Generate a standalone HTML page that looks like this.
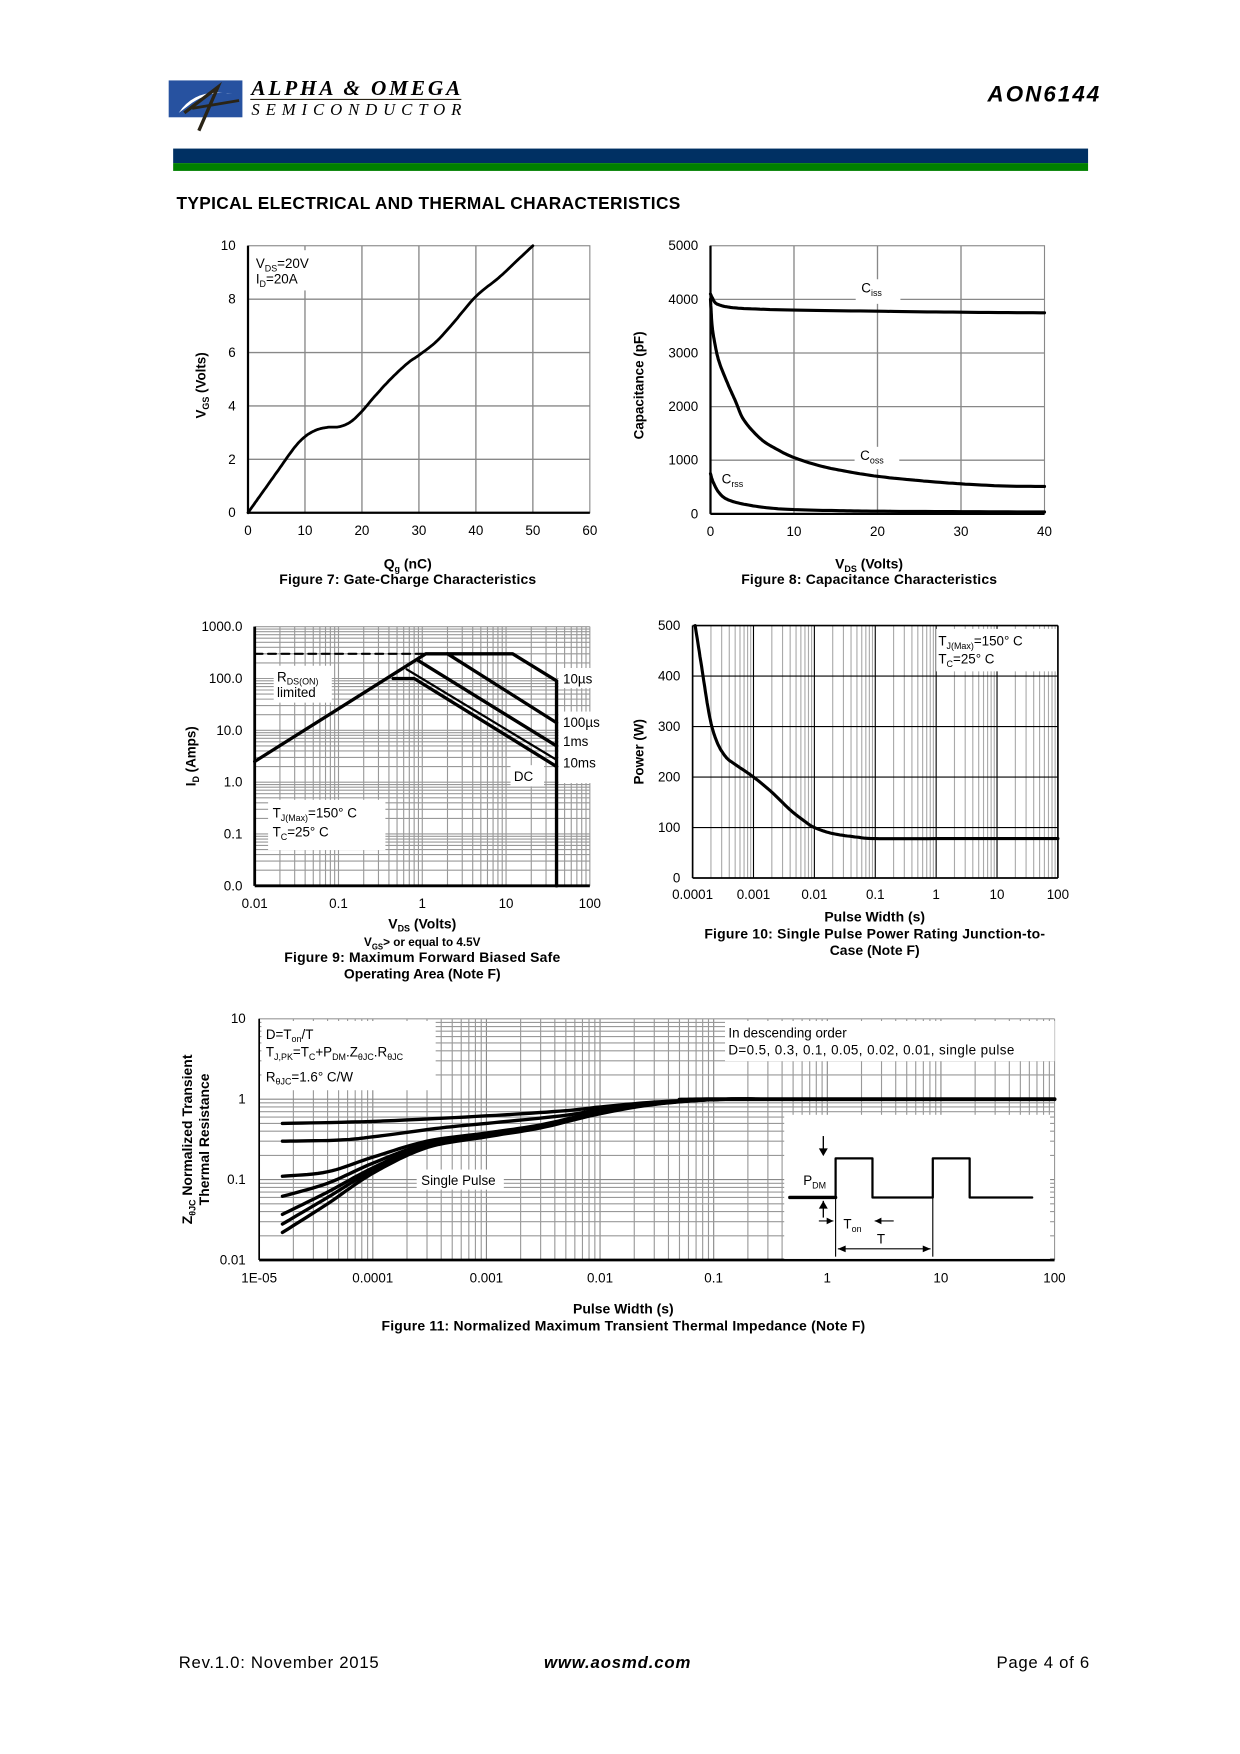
<!DOCTYPE html>
<html><head><meta charset="utf-8">
<style>
html,body{margin:0;padding:0;background:#fff;}
svg{display:block;}
text{font-family:"Liberation Sans",Arial,sans-serif;fill:#000;}
</style></head>
<body>
<svg id="s" width="1240" height="1754" viewBox="0 0 1110 1570.2" preserveAspectRatio="none" xmlns="http://www.w3.org/2000/svg">
<rect width="1110" height="1571" fill="#fff"/>
<rect x="151" y="72" width="66" height="33" fill="#2752a0"/>
<path d="M160 101 Q175 78 208 84 Q190 80 172 92 Z" fill="#fff"/>
<path d="M165 101 L195 78 L178 117" stroke="#2a2416" stroke-width="3" fill="none"/>
<path d="M172 97 L214 90" stroke="#2a2416" stroke-width="2.5"/>
<text x="225" y="85" font-style="italic" font-weight="bold" font-size="19" fill="#2a2416" textLength="187" style="font-family:'Liberation Serif',serif">ALPHA &amp; OMEGA</text>
<line x1="224" y1="89" x2="413" y2="89" stroke="#2a2416" stroke-width="1"/>
<text x="225" y="103" font-style="italic" font-size="15" textLength="188" style="font-family:'Liberation Serif',serif" fill="#2a2416">SEMICONDUCTOR</text>
<text x="884" y="91" font-style="italic" font-weight="bold" font-size="20" textLength="100">AON6144</text>
<rect x="155" y="133" width="819" height="13" fill="#003063"/>
<rect x="155" y="146" width="819" height="7" fill="#008000"/>
<text x="158" y="187" font-weight="bold" font-size="15.5" textLength="451">TYPICAL ELECTRICAL AND THERMAL CHARACTERISTICS</text>
<g id="g"></g>
<text x="160" y="1493" font-size="15" textLength="179">Rev.1.0: November 2015</text>
<text x="487" y="1493" font-size="15" font-weight="bold" font-style="italic" textLength="131">www.aosmd.com</text>
<text x="892" y="1493" font-size="15" textLength="83">Page 4 of 6</text>
</svg>
<script>
var out=[];
function L(x1,y1,x2,y2,c,w,extra){out.push('<line x1="'+x1+'" y1="'+y1+'" x2="'+x2+'" y2="'+y2+'" stroke="'+c+'" stroke-width="'+w+'" '+(extra||'')+'/>');}
function T(x,y,s,fs,anch,extra){out.push('<text x="'+x+'" y="'+y+'" font-size="'+(fs||12)+'" text-anchor="'+(anch||'start')+'" '+(extra||'')+'>'+s+'</text>');}
function R(x,y,w,h,f,s){out.push('<rect x="'+x+'" y="'+y+'" width="'+w+'" height="'+h+'" fill="'+(f||'#fff')+'" '+(s?'stroke="'+s+'"':'')+'/>');}
function P(pts,w,extra){out.push('<polyline fill="none" stroke="#000" stroke-width="'+w+'" stroke-linejoin="round" stroke-linecap="round" points="'+pts.map(function(p){return p[0].toFixed(1)+','+p[1].toFixed(1)}).join(' ')+'" '+(extra||'')+'/>');}
function lg(v){return Math.log(v)/Math.LN10;}
function lin(a0,a1,p0,p1){return function(v){return p0+(v-a0)/(a1-a0)*(p1-p0);};}
function logm(a0,a1,p0,p1){return function(v){return p0+(lg(v)-lg(a0))/(lg(a1)-lg(a0))*(p1-p0);};}
function logGridX(x0,x1,y0,y1,d0,nd,minC,majC){var w=(x1-x0)/nd;for(var d=0;d<nd;d++){for(var k=2;k<10;k++){var x=x0+w*(d+lg(k));L(x,y0,x,y1,minC,1);} if(d>0)L(x0+w*d,y0,x0+w*d,y1,majC,1);}}
function logGridY(x0,x1,y0,y1,nd,minC,majC){var h=(y1-y0)/nd;for(var d=0;d<nd;d++){for(var k=2;k<10;k++){var y=y1-h*(d+lg(k));L(x0,y,x1,y,minC,1);} if(d>0)L(x0,y1-h*d,x1,y1-h*d,majC,1);}}
// smooth via log-x interpolation (catmull-rom in pixel space)
function smooth(pts){var r=[];for(var i=0;i<pts.length-1;i++){var p0=pts[Math.max(0,i-1)],p1=pts[i],p2=pts[i+1],p3=pts[Math.min(pts.length-1,i+2)];for(var t=0;t<1;t+=0.1){var t2=t*t,t3=t2*t;r.push([0.5*((2*p1[0])+(-p0[0]+p2[0])*t+(2*p0[0]-5*p1[0]+4*p2[0]-p3[0])*t2+(-p0[0]+3*p1[0]-3*p2[0]+p3[0])*t3),0.5*((2*p1[1])+(-p0[1]+p2[1])*t+(2*p0[1]-5*p1[1]+4*p2[1]-p3[1])*t2+(-p0[1]+3*p1[1]-3*p2[1]+p3[1])*t3)]);}}r.push(pts[pts.length-1]);return r;}
var CAP='font-weight="bold"';

// ---------- Fig 7 ----------
(function(){var x0=222,x1=528,y0=220,y1=459;var X=lin(0,60,x0,x1),Y=lin(0,10,y1,y0);
for(var i=1;i<6;i++)L(X(i*10),y0,X(i*10),y1,'#888',1.2);
for(var i=1;i<5;i++)L(x0,Y(i*2),x1,Y(i*2),'#888',1.2);
R(x0,y0,x1-x0,y1-y0,'none','#888');
L(x0,y0,x0,y1,'#000',2);L(x0,y1,x1,y1,'#000',2);
for(var i=0;i<=6;i++)T(X(i*10),479,i*10,12,'middle');
for(var i=0;i<=5;i++)T(211,Y(i*2)+4,i*2,12,'end');
R(226,224,58,36,'#fff');
T(229,240,'V<tspan font-size="8" dy="3">DS</tspan><tspan dy="-3">=20V</tspan>',12);
T(229,254,'I<tspan font-size="8" dy="3">D</tspan><tspan dy="-3">=20A</tspan>',12);
var d=[[0,0],[2,0.6],[5,1.5],[8,2.4],[10,2.85],[12,3.1],[14,3.2],[16,3.22],[18,3.4],[20,3.8],[22,4.3],[25,5.0],[28,5.6],[30,5.9],[33,6.4],[36,7.1],[40,8.1],[44,8.8],[47,9.4],[50,10]];
P(smooth(d.map(function(p){return[X(p[0]),Y(p[1])]})),2.5);
T(184,345,'V<tspan font-size="8" dy="3">GS</tspan><tspan dy="-3"> (Volts)</tspan>',12,'middle','font-weight="bold" transform="rotate(-90 184 345)"');
T(365,509,'Q<tspan font-size="8" dy="3">g</tspan><tspan dy="-3"> (nC)</tspan>',12.5,'middle',CAP);
T(365,523,'Figure 7: Gate-Charge Characteristics',12.5,'middle',CAP+' textLength="230"');
})();

// ---------- Fig 8 ----------
(function(){var x0=636,x1=935,y0=220,y1=460;var X=lin(0,40,x0,x1),Y=lin(0,5000,y1,y0);
for(var i=1;i<4;i++)L(X(i*10),y0,X(i*10),y1,'#888',1.2);
for(var i=1;i<5;i++)L(x0,Y(i*1000),x1,Y(i*1000),'#888',1.2);
R(x0,y0,x1-x0,y1-y0,'none','#888');
L(x0,y0,x0,y1,'#000',2);L(x0,y1,x1,y1,'#000',2);
for(var i=0;i<=4;i++)T(X(i*10),480,i*10,12,'middle');
for(var i=0;i<=5;i++)T(625,Y(i*1000)+4,i*1000,12,'end');
function C(a){P(smooth(a.map(function(p){return[X(p[0]),Y(p[1])]})),2.8);}
R(766,250,40,22,'#fff');R(765,400,40,20,'#fff');
C([[0,4100],[0.5,3950],[1,3900],[2,3860],[4,3830],[10,3800],[20,3780],[30,3760],[40,3750]]);
C([[0,4000],[0.2,3500],[0.5,3200],[1,2850],[2,2450],[3,2100],[4,1750],[6,1400],[8,1200],[10,1050],[13,900],[16,800],[20,700],[25,620],[30,560],[35,520],[40,510]]);
C([[0,750],[0.3,600],[1,400],[2,270],[4,180],[7,110],[10,80],[15,60],[20,50],[30,40],[40,35]]);
T(771,262,'C<tspan font-size="8" dy="3">iss</tspan>',12);
T(770,412,'C<tspan font-size="8" dy="3">oss</tspan>',12);
T(646,433,'C<tspan font-size="8" dy="3">rss</tspan>',12);
T(576,345,'Capacitance (pF)',12,'middle','font-weight="bold" transform="rotate(-90 576 345)"');
T(778,509,'V<tspan font-size="8" dy="3">DS</tspan><tspan dy="-3"> (Volts)</tspan>',12.5,'middle',CAP);
T(778,523,'Figure 8: Capacitance Characteristics',12.5,'middle',CAP+' textLength="229"');
})();

// ---------- Fig 9 ----------
(function(){var x0=228,x1=528,y0=561,y1=793;var X=logm(0.01,100,x0,x1),Y=logm(0.01,1000,y1,y0);
logGridX(x0,x1,y0,y1,0,4,'#999','#999');logGridY(x0,x1,y0,y1,5,'#999','#999');
L(x1,y0,x1,y1,'#999',1);L(x0,y0,x1,y0,'#999',1);
L(x0,y0,x0,y1,'#000',2.5);L(x0,y1,x1,y1,'#000',2.5);
var xl=['0.01','0.1','1','10','100'];for(var i=0;i<5;i++)T(x0+75*i,813,xl[i],12,'middle');
var yl=['0.0','0.1','1.0','10.0','100.0','1000.0'];for(var i=0;i<6;i++)T(217,y1-i*46.4+4,yl[i],12,'end');
function C(a,w,e){P(a.map(function(p){return[X(p[0]),Y(p[1])]}),w||2.8,e);}
R(500,598,38,18,'#fff');R(500,637,40,64,'#fff');R(457,685,30,19,'#fff');
R(245,596,52,33,'#fff');R(240,716,105,45,'#fff');
C([[0.01,300],[1.1,300]],2,'stroke-dasharray="7,5"');
C([[0.01,2.5],[1.1,300],[12,300],[40,90],[40,0.01]],3);
C([[2,300],[40,14]],3);
C([[0.9,220],[40,5]],3);
C([[0.65,150],[40,2.7]],2);
C([[0.45,100],[0.8,100],[40,2]],3);
T(504,612,'10µs',12);T(504,651,'100µs',12);T(504,668,'1ms',12);T(504,687,'10ms',12);T(460,699,'DC',12);
T(248,610,'R<tspan font-size="8" dy="3">DS(ON)</tspan>',12);T(248,624,'limited',12);
T(244,732,'T<tspan font-size="8" dy="3">J(Max)</tspan><tspan dy="-3">=150°  C</tspan>',12);
T(244,749,'T<tspan font-size="8" dy="3">C</tspan><tspan dy="-3">=25°  C</tspan>',12);
T(175,677,'I<tspan font-size="8" dy="3">D</tspan><tspan dy="-3"> (Amps)</tspan>',12,'middle','font-weight="bold" transform="rotate(-90 175 677)"');
T(378,831,'V<tspan font-size="8" dy="3">DS</tspan><tspan dy="-3"> (Volts)</tspan>',12.5,'middle',CAP);
T(378,847,'V<tspan font-size="7" dy="3">GS</tspan><tspan dy="-3">&gt; or equal to 4.5V</tspan>',10.5,'middle',CAP);
T(378,861,'Figure 9: Maximum Forward Biased Safe',12.5,'middle',CAP+' textLength="247"');
T(378,876,'Operating Area (Note F)',12.5,'middle',CAP);
})();

// ---------- Fig 10 ----------
(function(){var x0=620,x1=947,y0=560,y1=786;var X=logm(0.0001,100,x0,x1),Y=lin(0,500,y1,y0);
logGridX(x0,x1,y0,y1,0,6,'#aaa','#000');
for(var i=1;i<5;i++)L(x0,Y(i*100),x1,Y(i*100),'#000',1);
L(x1,y0,x1,y1,'#000',1.5);L(x0,y0,x1,y0,'#000',1.5);
L(x0,y0,x0,y1,'#000',1.5);L(x0,y1,x1,y1,'#000',1.5);
var xl=['0.0001','0.001','0.01','0.1','1','10','100'];for(var i=0;i<7;i++)T(x0+54.5*i,805,xl[i],12,'middle');
for(var i=0;i<=5;i++)T(609,Y(i*100)+4,i*100,12,'end');
R(838,563,108,38,'#fff');
T(840,578,'T<tspan font-size="8" dy="3">J(Max)</tspan><tspan dy="-3">=150°  C</tspan>',12);
T(840,594,'T<tspan font-size="8" dy="3">C</tspan><tspan dy="-3">=25°  C</tspan>',12);
var d=[[1.1e-4,500],[1.4e-4,420],[1.9e-4,320],[2.5e-4,270],[3.5e-4,240],[5e-4,225],[1e-3,200],[2e-3,170],[4e-3,135],[7e-3,112],[1e-2,100],[2e-2,88],[5e-2,81],[0.1,78],[1,78],[100,78]];
P(smooth(d.map(function(p){return[X(p[0]),Y(p[1])]})),2.8);
T(576,673,'Power (W)',12,'middle','font-weight="bold" transform="rotate(-90 576 673)"');
T(783,825,'Pulse Width (s)',12.5,'middle',CAP);
T(783,840,'Figure 10: Single Pulse Power Rating Junction-to-',12.5,'middle',CAP+' textLength="305"');
T(783,855,'Case (Note F)',12.5,'middle',CAP);
})();

// ---------- Fig 11 ----------
(function(){var x0=232,x1=944,y0=912,y1=1128;var X=logm(1e-5,100,x0,x1),Y=logm(0.01,10,y1,y0);
logGridX(x0,x1,y0,y1,0,7,'#999','#888');logGridY(x0,x1,y0,y1,3,'#999','#888');
L(x1,y0,x1,y1,'#999',1);L(x0,y0,x1,y0,'#999',1);
L(x0,y0,x0,y1,'#000',1.5);L(x0,y1,x1,y1,'#000',2.5);
var xl=['1E-05','0.0001','0.001','0.01','0.1','1','10','100'];for(var i=0;i<8;i++)T(x0+101.7*i,1148,xl[i],12,'middle');
var yl=['0.01','0.1','1','10'];for(var i=0;i<4;i++)T(220,y1-72*i+4,yl[i],12,'end');
R(234,914,156,62,'#fff');R(649,914,295,36,'#fff');R(373,1047,78,18,'#fff');R(702,998,238,129,'#fff');
function C(a,w){P(smooth(a.map(function(p){return[X(p[0]),Y(p[1])]})),w||3);}
C([[0.05,0.985],[0.1,1],[1,1],[100,1]],3.5);
C([[1.6e-5,0.5],[1e-4,0.53],[1e-3,0.62],[5e-3,0.72],[1e-2,0.8],[3e-2,0.92],[0.1,0.99],[0.3,1]]);
C([[1.6e-5,0.3],[5e-5,0.31],[1e-4,0.34],[4e-4,0.44],[1e-3,0.5],[5e-3,0.63],[1e-2,0.75],[3e-2,0.9],[0.1,0.99],[0.3,1]]);
C([[1.6e-5,0.11],[4e-5,0.125],[1e-4,0.19],[3e-4,0.3],[1e-3,0.38],[3e-3,0.48],[1e-2,0.7],[3e-2,0.88],[0.1,0.99],[0.3,1]]);
C([[1.6e-5,0.062],[4e-5,0.09],[1e-4,0.16],[3e-4,0.28],[1e-3,0.36],[3e-3,0.46],[1e-2,0.68],[3e-2,0.87],[0.1,0.99],[0.3,1]]);
C([[1.6e-5,0.037],[4e-5,0.07],[1e-4,0.14],[3e-4,0.27],[1e-3,0.35],[3e-3,0.45],[1e-2,0.67],[3e-2,0.87],[0.1,0.99],[0.3,1]]);
C([[1.6e-5,0.028],[4e-5,0.06],[1e-4,0.13],[3e-4,0.26],[1e-3,0.35],[3e-3,0.45],[1e-2,0.67],[3e-2,0.87],[0.1,0.99],[0.3,1]]);
C([[1.6e-5,0.022],[4e-5,0.05],[1e-4,0.12],[3e-4,0.25],[1e-3,0.34],[3e-3,0.44],[1e-2,0.66],[3e-2,0.86],[0.1,0.99],[0.3,1]]);
T(238,930,'D=T<tspan font-size="8" dy="3">on</tspan><tspan dy="-3">/T</tspan>',12);
T(238,946,'T<tspan font-size="8" dy="3">J,PK</tspan><tspan dy="-3">=T</tspan><tspan font-size="8" dy="3">C</tspan><tspan dy="-3">+P</tspan><tspan font-size="8" dy="3">DM</tspan><tspan dy="-3">.Z</tspan><tspan font-size="8" dy="3">θJC</tspan><tspan dy="-3">.R</tspan><tspan font-size="8" dy="3">θJC</tspan>',12);
T(238,968,'R<tspan font-size="8" dy="3">θJC</tspan><tspan dy="-3">=1.6°  C/W</tspan>',12);
T(652,929,'In descending order',12);
T(652,944,'D=0.5, 0.3, 0.1, 0.05, 0.02, 0.01, single pulse',12,'start','textLength="256"');
T(377,1061,'Single Pulse',12);
P([[748,1072],[748,1037],[781,1037],[781,1072],[835,1072],[835,1037],[868,1037],[868,1072],[924,1072]],2);
P([[707,1072],[748,1072]],3);
L(748,1037,748,1125,'#000',1);L(835,1072,835,1125,'#000',1);
L(737,1017,737,1034,'#000',1.2);out.push('<polygon points="733,1028 741,1028 737,1035" fill="#000"/>');
L(737,1075,737,1090,'#000',1.2);out.push('<polygon points="733,1082 741,1082 737,1075" fill="#000"/>');
T(719,1061,'P<tspan font-size="8" dy="3">DM</tspan>',12);
L(733,1093,746,1093,'#000',1);out.push('<polygon points="746,1093 740,1090 740,1096" fill="#000"/>');
L(783,1093,800,1093,'#000',1);out.push('<polygon points="783,1093 789,1090 789,1096" fill="#000"/>');
T(755,1100,'T<tspan font-size="8" dy="3">on</tspan>',12);
L(750,1118,833,1118,'#000',1);out.push('<polygon points="750,1118 757,1115 757,1121" fill="#000"/><polygon points="833,1118 826,1115 826,1121" fill="#000"/>');
T(785,1113,'T',12);
T(172,1020,'Z<tspan font-size="8" dy="3">θJC</tspan><tspan dy="-3"> Normalized Transient</tspan>',12.5,'middle','font-weight="bold" transform="rotate(-90 172 1020)"');
T(187,1020,'Thermal Resistance',12.5,'middle','font-weight="bold" transform="rotate(-90 187 1020)"');
T(558,1176,'Pulse Width (s)',12.5,'middle',CAP);
T(558,1191,'Figure 11: Normalized Maximum Transient Thermal Impedance (Note F)',12.5,'middle',CAP+' textLength="433"');
})();
document.getElementById('g').innerHTML=out.join('');
</script>
</body></html>
